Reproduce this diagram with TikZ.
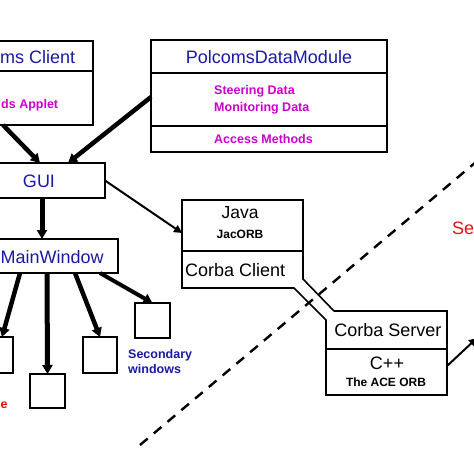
\documentclass[tikz,border=0pt]{standalone}
\usepackage{fontspec}
\setmainfont{Liberation Sans}
\usetikzlibrary{arrows.meta,calc}
\definecolor{titleblue}{RGB}{25,25,165}
\definecolor{datamag}{RGB}{204,0,204}
\definecolor{sidered}{RGB}{225,20,20}
\def\boxnode(#1)(#2,#3)(#4:#5){\node[box,minimum width=#4pt,minimum height=#5pt] (#1) at (#2,#3) {};}

\begin{document}
\begin{tikzpicture}[x=1pt,y=-1pt,
		box/.style={draw,line width=1.6pt,anchor=north west,inner sep=0pt,outer sep=0pt},
		titletext/.style={inner sep=0pt,font=\fontsize{18}{20}\selectfont},
		labeltext/.style={inner sep=0pt,font=\bfseries\fontsize{12.5}{17}\selectfont},
		fat/.style={line width=4.5pt,-{Triangle[length=9pt,width=10pt]}},
		slim/.style={line width=2pt,-{Triangle[length=8pt,width=8pt]}}]
		\useasboundingbox (0,0) rectangle (474,474);
		%%%%% START %%%%%
		% client (cut at the left edge)
		\boxnode(cliHead)(-60,41)(153:30)
		\boxnode(cliBody)(-60,71)(153:54)
		\node[titletext,titleblue,anchor=west] (cliName) at (0,57) {ms Client};
		\node[labeltext,datamag,anchor=west] (cliApplet) at (1,105) {ds Applet};
		
		% data module
		\boxnode(polHead)(151,40)(236:33)
		\boxnode(polData)(151,73)(236:53)
		\boxnode(polAccess)(151,126)(236:26)
		\node[titletext,titleblue] (polName) at (269,57) {PolcomsDataModule};
		\node[labeltext,datamag,anchor=west,align=left] (polItems) at (214,100) {Steering Data\\Monitoring Data};
		\node[labeltext,datamag,anchor=west] (polMethods) at (214,139) {Access Methods};
		
		% GUI and main window
		\boxnode(gui)(-27,163)(132:35)
		\node[titletext,titleblue] (guiName) at (39,181) {GUI};
		\boxnode(mainWin)(-60,239)(178:34)
		\node[titletext,titleblue,anchor=west] (mainName) at (0.5,257) {MainWindow};
		
		% secondary windows
		\boxnode(winA)(-23,337)(36:36)
		\boxnode(winB)(30,374)(35:34)
		\boxnode(winC)(83,337)(34:36)
		\boxnode(winD)(135,303)(35:35)
		\node[labeltext,titleblue,anchor=west,align=left,font=\bfseries\fontsize{12.5}{15}\selectfont] (secName) at (128,361.5) {Secondary\\windows};
		
		% java client
		\boxnode(javaTop)(182,200)(121:51)
		\boxnode(javaLow)(182,251)(121:37)
		\node[titletext,font=\fontsize{17.5}{20}\selectfont] (javaName) at (240,213) {Java};
		\node[labeltext,font=\bfseries\fontsize{12}{14}\selectfont] (jacorb) at (240,234) {JacORB};
		\node[titletext,anchor=west] (corbaCli) at (185,270) {Corba Client};
		
		% corba server
		\boxnode(srvTop)(326,311)(121:38)
		\boxnode(srvLow)(326,349)(121:46)
		\node[titletext] (corbaSrv) at (388,330) {Corba Server};
		\node[titletext] (cpp) at (387,363) {C++};
		\node[labeltext,font=\bfseries\fontsize{12}{14}\selectfont] (tao) at (386,382) {The ACE ORB};
		
		% channel between client and server
		\coordinate (chA) at (303,279);
		\coordinate (chB) at (334,311);
		\coordinate (chC) at (326,320);
		\coordinate (chD) at (294,288);
		\fill[white] (chA) -- (chB) -- (chC) -- (chD) -- cycle;
		\draw[line width=1.6pt] (chA) -- (chB);
		\draw[line width=1.6pt] (chD) -- (chC);
		
		% boundary
		\coordinate (dashA) at (140,445);
		\coordinate (dashB) at (495,146);
		\draw[line width=2.4pt,dash pattern=on 10pt off 8pt] (dashA) -- (dashB);
		\node[titletext,sidered,anchor=west] (srvSide) at (452,228) {Se};
		\node[labeltext,sidered,anchor=west] (cliSide) at (0.5,405) {e};
		
		% arrows
		\draw[fat] ([xshift=-13.5pt]cliBody.south) -- ([xshift=1pt]gui.north);
		\draw[fat] ([yshift=2.5pt]polData.west) -- ([xshift=29pt]gui.north);
		\draw[slim] (gui.east) -- ([yshift=-7.5pt]javaTop.west);
		\draw[fat,line width=5pt] ([xshift=3pt]gui.south) -- ([xshift=3pt]gui.south |- mainWin.north);
		\draw[fat] ([xshift=-9pt]mainWin.south) -- ([xshift=7pt]winA.north);
		\draw[fat,line width=5pt] ([xshift=18pt]mainWin.south) -- (winB.north);
		\draw[fat] ([xshift=46pt]mainWin.south) -- (winC.north);
		\draw[fat,line width=4pt] ([xshift=71pt]mainWin.south) -- (winD.north);
		\coordinate (offRight) at (477,338);
		\draw[slim] ([yshift=6pt]srvLow.east) -- (offRight);
		%%%%% END %%%%%
	\end{tikzpicture}
\end{document}
